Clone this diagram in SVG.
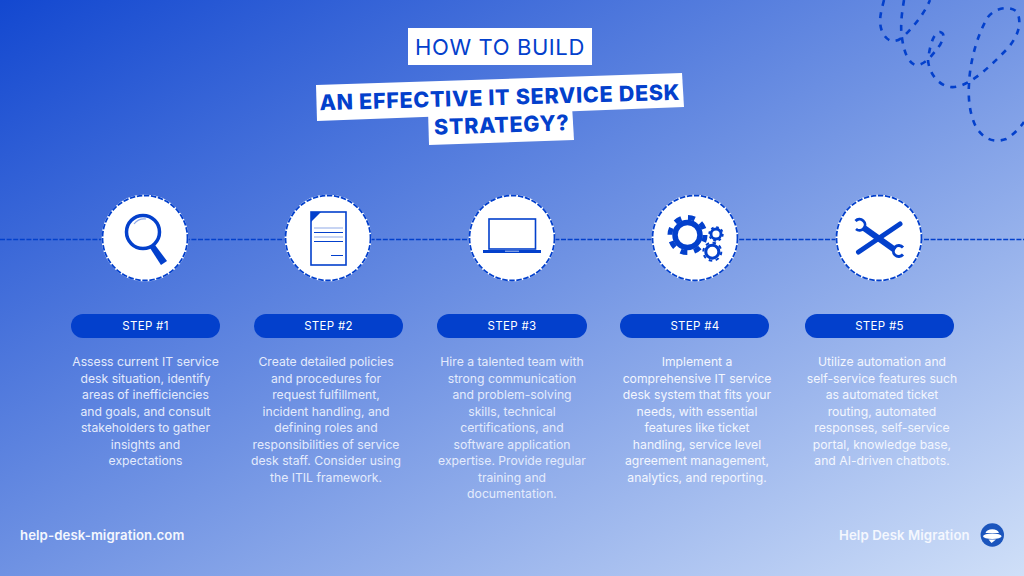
<svg xmlns="http://www.w3.org/2000/svg" width="1024" height="576" viewBox="0 0 1024 576">
<style>
text{font-family:"Inter","Open Sans","Liberation Sans",sans-serif}
.body{font-size:12.2px;fill:#e4ebfc;text-anchor:middle}
.lite{fill:#f3f6fe}
.pill{fill:#0340cc}
.pt{font-size:11.5px;fill:#fff;text-anchor:middle;letter-spacing:.3px}
.halo{fill:#fff;stroke:#fff;stroke-width:1.8}
.disc{fill:none;stroke:#0340cc;stroke-width:1.8;stroke-dasharray:5.500 1.600}
.ink{fill:none;stroke:#0340cc}
.faint{fill:none;stroke:#8fa9e8;stroke-width:1.200}
.solid{fill:#0340cc}
.deco{fill:none;stroke:#0340cc;stroke-width:2.600;stroke-dasharray:6 6.500}
.t1{font-size:22px;fill:#0340cc;text-anchor:middle;letter-spacing:.6px}
.t2{font-size:21.500px;font-weight:800;fill:#0340cc;text-anchor:middle;letter-spacing:.68px}
.foot{font-size:13.200px;font-weight:600;fill:#f4f7fe;letter-spacing:.1px}
</style>
<defs>
<linearGradient id="bg" gradientUnits="userSpaceOnUse" x1="266" y1="-149" x2="758" y2="725">
<stop offset="0" stop-color="#1348d0"/><stop offset=".5" stop-color="#6f92e3"/><stop offset="1" stop-color="#cfdff8"/>
</linearGradient>
</defs>
<rect width="1024" height="576" fill="url(#bg)"/>
<g id="deco">
<path class="deco" d="M884 0C881 12 877 24 884 35C890 44 898 42 905 35C916 24 925 12 930 0"/>
<path class="deco" d="M904 0C902 12 900 26 902 38C904 52 908 62 915 65C925 66 933 54 940 45C944 38 945 33 940 32C934 32 930 44 928 60C929 73 938 85 950 87C965 89 985 72 1008 48C1019 35 1022 22 1017 12C1010 5 995 8 988 17C978 33 970 60 969 84C968 100 970 115 976 127C984 140 995 143 1006 139C1012 136 1020 128 1024 122"/>
</g>
<g id="connectors">
<line x1="0" y1="239.500" x2="1024" y2="239.500" stroke="#0340cc" stroke-width="1.400" stroke-dasharray="5 1.600"/>
</g>
<g id="title">
<rect x="408" y="28" width="184" height="37" fill="#fff"/>
<text class="t1" x="500" y="55">HOW TO BUILD</text>
<polygon points="316,85 682,73 684,107 317,121" fill="#fff"/>
<polygon points="428,110 572,105 574,140 429,145" fill="#fff"/>
<text class="t2" transform="translate(500,105) rotate(-1.700)" x="0" y="0">AN EFFECTIVE IT SERVICE DESK</text>
<text class="t2" transform="translate(502,132.500) rotate(-2)" x="0" y="0">STRATEGY?</text>
</g>
<g id="step1">
<circle class="halo" cx="145" cy="238" r="42.500"/><circle class="disc" cx="145" cy="238" r="42.500"/>
<circle class="ink" cx="143" cy="232" r="16.500" stroke-width="3.500"/>
<path class="faint" d="M134 224A13 13 0 0 1 146 219"/>
<polygon class="solid" points="150,248 155,245 167,261 161,265"/>
<rect class="pill" x="71" y="314" width="149" height="24" rx="12"/>
<text class="pt" x="145.500" y="330">STEP #1</text>
<text class="body" x="145.500" y="366">Assess current IT service</text>
<text class="body" x="145.500" y="383">desk situation, identify</text>
<text class="body" x="145.500" y="399">areas of inefficiencies</text>
<text class="body" x="145.500" y="416">and goals, and consult</text>
<text class="body" x="145.500" y="432">stakeholders to gather</text>
<text class="body" x="145.500" y="449">insights and</text>
<text class="body" x="145.500" y="465">expectations</text>
</g>
<g id="step2">
<circle class="halo" cx="328" cy="238" r="42.500"/><circle class="disc" cx="328" cy="238" r="42.500"/>
<rect class="ink" x="311" y="212" width="35" height="53" stroke-width="1.600"/>
<polygon class="solid" points="311,212 321,212 311,222"/>
<path class="faint" d="M314 228H343M314 237H343"/>
<path class="ink" d="M314 232.500H343M314 241.500H343" stroke-width="1"/>
<path class="ink" d="M331 255.500H343" stroke-width="1"/>
<rect class="pill" x="254" y="314" width="149" height="24" rx="12"/>
<text class="pt" x="328.500" y="330">STEP #2</text>
<text class="body" x="326" y="366">Create detailed policies</text>
<text class="body" x="326" y="383">and procedures for</text>
<text class="body" x="326" y="399">request fulfillment,</text>
<text class="body" x="326" y="416">incident handling, and</text>
<text class="body" x="326" y="432">defining roles and</text>
<text class="body" x="326" y="449">responsibilities of service</text>
<text class="body" x="326" y="465">desk staff. Consider using</text>
<text class="body" x="326" y="482">the ITIL framework.</text>
</g>
<g id="step3">
<circle class="halo" cx="512" cy="238" r="42.500"/><circle class="disc" cx="512" cy="238" r="42.500"/>
<rect class="ink" x="489" y="219" width="46.500" height="30" stroke-width="1.600"/>
<rect class="solid" x="483" y="250" width="58" height="3"/>
<path d="M505 251.200H519" stroke="#dfe7fa" stroke-width=".8"/>
<rect class="pill" x="437" y="314" width="150" height="24" rx="12"/>
<text class="pt" x="512" y="330">STEP #3</text>
<text class="body" x="512" y="366">Hire a talented team with</text>
<text class="body" x="512" y="383">strong communication</text>
<text class="body" x="512" y="399">and problem-solving</text>
<text class="body" x="512" y="416">skills, technical</text>
<text class="body" x="512" y="432">certifications, and</text>
<text class="body" x="512" y="449">software application</text>
<text class="body" x="512" y="465">expertise. Provide regular</text>
<text class="body" x="512" y="482">training and</text>
<text class="body" x="512" y="498">documentation.</text>
</g>
<g id="step4">
<circle class="halo" cx="695" cy="238" r="42.500"/><circle class="disc" cx="695" cy="238" r="42.500"/>
<circle class="ink" cx="687.500" cy="235" r="12.500" stroke-width="5.500"/>
<circle class="ink" cx="687.500" cy="235" r="17.500" stroke-width="5" stroke-dasharray="6.870 6.870"/>
<circle class="ink" cx="716" cy="234" r="5" stroke-width="2.800"/>
<circle class="ink" cx="716" cy="234" r="6.800" stroke-width="1.800" stroke-dasharray="2.670 2.670"/>
<circle class="ink" cx="712.300" cy="251.700" r="6.500" stroke-width="3"/>
<circle class="ink" cx="712.300" cy="251.700" r="9" stroke-width="2" stroke-dasharray="3.530 3.530"/>
<rect class="pill" x="620" y="314" width="149" height="24" rx="12"/>
<text class="pt" x="695" y="330">STEP #4</text>
<text class="body lite" x="697" y="366">Implement a</text>
<text class="body lite" x="697" y="383">comprehensive IT service</text>
<text class="body lite" x="697" y="399">desk system that fits your</text>
<text class="body lite" x="697" y="416">needs, with essential</text>
<text class="body lite" x="697" y="432">features like ticket</text>
<text class="body lite" x="697" y="449">handling, service level</text>
<text class="body lite" x="697" y="465">agreement management,</text>
<text class="body lite" x="697" y="482">analytics, and reporting.</text>
</g>
<g id="step5">
<circle class="halo" cx="879" cy="238" r="42.500"/><circle class="disc" cx="879" cy="238" r="42.500"/>
<path class="ink" d="M858.500 252L900 224" stroke-width="5" stroke-linecap="round"/>
<path class="ink" d="M864 228L895 250" stroke-width="6"/>
<path class="ink" d="M855.500 221A5.500 5.500 0 1 1 856 229" stroke-width="2.800"/>
<path class="ink" d="M903 254.500A5.500 5.500 0 1 1 903 247.500" stroke-width="2.800"/>
<rect class="pill" x="805" y="314" width="149" height="24" rx="12"/>
<text class="pt" x="879.500" y="330">STEP #5</text>
<text class="body lite" x="882" y="366">Utilize automation and</text>
<text class="body lite" x="882" y="383">self-service features such</text>
<text class="body lite" x="882" y="399">as automated ticket</text>
<text class="body lite" x="882" y="416">routing, automated</text>
<text class="body lite" x="882" y="432">responses, self-service</text>
<text class="body lite" x="882" y="449">portal, knowledge base,</text>
<text class="body lite" x="882" y="465">and AI-driven chatbots.</text>
</g>
<g id="footer">
<text class="foot" x="20" y="540">help-desk-migration.com</text>
<text class="foot" x="839" y="540">Help Desk Migration</text>
<circle cx="992.300" cy="535" r="11.700" fill="#1b55bd"/>
<path d="M985.500 533A7 5 0 0 1 999 533Z" fill="#fff"/>
<ellipse cx="992.300" cy="536.300" rx="9.300" ry="2.800" fill="#fff"/>
<path d="M988.500 539.500H996L991.500 543Z" fill="#fff"/>
</g>
</svg>
